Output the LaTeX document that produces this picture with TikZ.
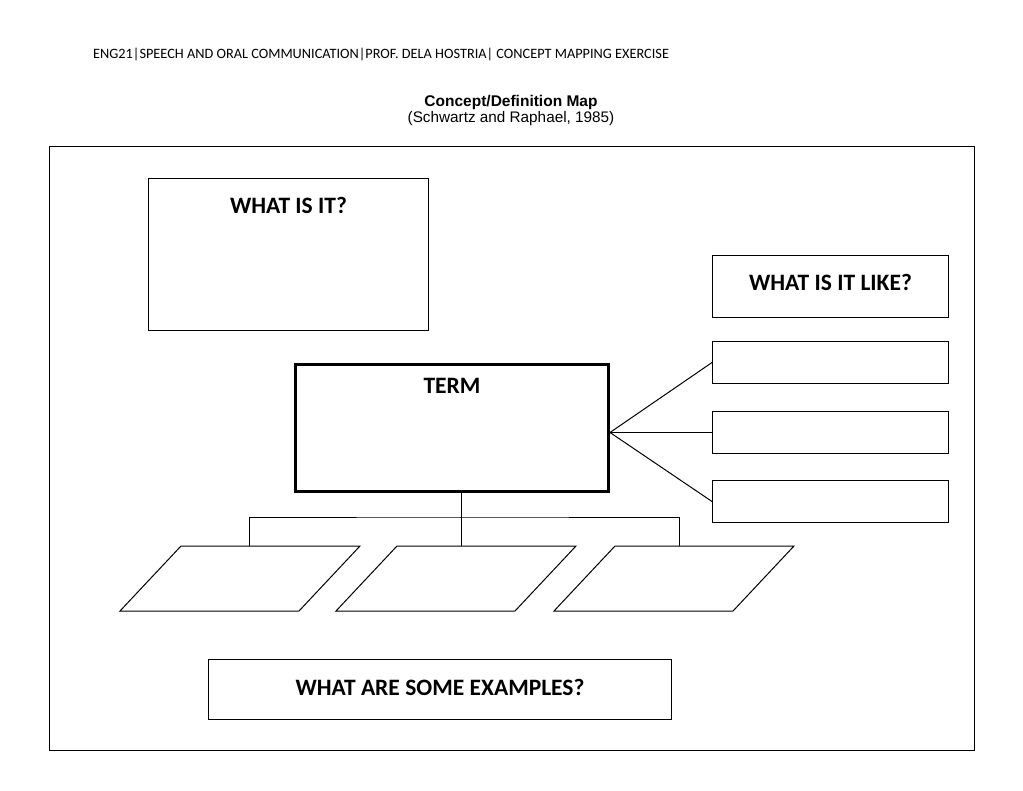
\documentclass[tikz,border=0pt]{standalone}
\usepackage{fontspec}
\setmainfont{Carlito}
\newfontfamily\arialfont{Liberation Sans}
\usetikzlibrary{positioning, calc}

\tikzset{
  box/.style={draw, line width=1pt, inner sep=0pt, anchor=north west},
  termbox/.style={box, line width=3pt},
  boxtext/.style={font=\bfseries\fontsize{23.5}{27}\selectfont},
  link/.style={line width=1pt}
}

\begin{document}
\begin{tikzpicture}[x=1pt, y=-1pt]
  \useasboundingbox (0,0) rectangle (1023,791);
  % header and title
  \node[anchor=west, inner sep=0pt, font=\fontsize{14.3}{16}\selectfont] (head) at (93,55)
    {ENG21|SPEECH AND ORAL COMMUNICATION|PROF. DELA HOSTRIA|\ CONCEPT MAPPING EXERCISE};
  \node[inner sep=0pt, font=\arialfont\bfseries\fontsize{15.5}{18}\selectfont] (title) at (511,102)
    {Concept/Definition Map};
  \node[inner sep=0pt, font=\arialfont\fontsize{15.3}{18}\selectfont] (source) at (511,119)
    {(Schwartz and Raphael, 1985)};
  % outer frame
  \draw[line width=1pt] (49,147) rectangle (974,750);

  % definition box
  \node[box, minimum width=280pt, minimum height=152pt,
        label={[below=16pt, boxtext]north:WHAT IS IT?}] (what) at (148,178) {};
  % properties
  \node[box, minimum width=236pt, minimum height=62pt,
        label={[boxtext, yshift=4pt]center:WHAT IS IT LIKE?}] (like) at (712,255) {};
  \foreach \i/\y in {1/341, 2/411, 3/480}
    \node[box, minimum width=236pt, minimum height=42pt] (prop\i) at (712,\y) {};
  % term
  \node[termbox, minimum width=313pt, minimum height=127pt,
        label={[below=12pt, boxtext]north:TERM}] (term) at (294,363) {};
  % examples caption
  \node[box, minimum width=463pt, minimum height=60pt,
        label={[boxtext, yshift=2pt]center:WHAT ARE SOME EXAMPLES?}] (examples) at (208,659) {};

  % examples (parallelograms)
  \foreach \i/\x/\t in {1/181/249, 2/397/461, 3/615/679} {
    \draw[link] (\x,546) -- ++(179,0) -- ++(-61,65) -- ++(-179,0) -- cycle;
    \coordinate (ex\i) at (\t,546);
  }

  % connectors
  \coordinate (hub) at (term.east |- prop2.west);
  \foreach \i in {1,2,3}
    \draw[link] (hub) -- (prop\i.west);
  \coordinate (fork) at (ex2 |- 0,517);
  \draw[link] (term.south -| fork) -- (fork);
  \draw[link] (ex1) |- (fork) -| (ex3);
  \draw[link] (fork) -- (ex2);
\end{tikzpicture}
\end{document}
